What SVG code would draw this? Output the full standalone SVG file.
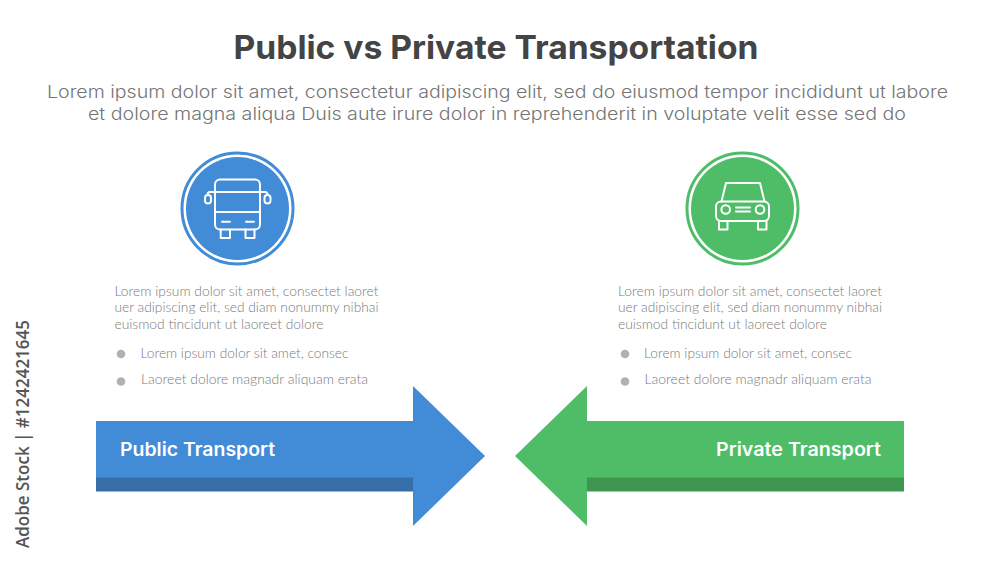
<svg xmlns="http://www.w3.org/2000/svg" width="1000" height="563" viewBox="0 0 1000 563">
<style>
.title{font:700 33px "Inter","Open Sans","Liberation Sans",sans-serif;fill:#444}
.sub{font:300 17px "Inter","Open Sans","Liberation Sans",sans-serif;fill:#757575}
.body{font:300 13.6px "Lato","Liberation Sans",sans-serif;fill:#7a7a7a}
.label{font:600 18.5px "Inter","Open Sans","Liberation Sans",sans-serif;fill:#fff}
.ico{fill:none;stroke:#fff;stroke-width:2;stroke-linejoin:round;stroke-linecap:round}
.dot{fill:#b0b0b0}
.stock{font:600 17.5px "Open Sans","Liberation Sans",sans-serif;fill:#555}
</style>
<rect width="1000" height="563" fill="#fff"/>
<g id="header">
<text class="title" x="496" y="59" text-anchor="middle" textLength="525" lengthAdjust="spacingAndGlyphs">Public vs Private Transportation</text>
<text class="sub" x="497.500" y="98" text-anchor="middle" textLength="901" lengthAdjust="spacingAndGlyphs">Lorem ipsum dolor sit amet, consectetur adipiscing elit, sed do eiusmod tempor incididunt ut labore</text>
<text class="sub" x="497" y="119.500" text-anchor="middle" textLength="818" lengthAdjust="spacingAndGlyphs">et dolore magna aliqua Duis aute irure dolor in reprehenderit in voluptate velit esse sed do</text>
</g>
<g id="public-icon">
<circle cx="237.500" cy="208.500" r="55.500" fill="#fff" stroke="#428bd6" stroke-width="3"/>
<circle cx="237.500" cy="208.500" r="51.500" fill="#428bd6"/>
<g class="ico">
<rect x="215" y="179.500" width="45" height="50" rx="5"/>
<path d="M215 192H260M215 212H260"/>
<path d="M222 221.700H230M246 221.700H254"/>
<path d="M220.700 229.500V238H230V229.500M245.500 229.500V238H254.500V229.500"/>
<path d="M215 192H210Q207.500 192 207.500 195M260 192H265Q267.500 192 267.500 195"/>
<rect x="205" y="195" width="6" height="8.500" rx="3"/>
<rect x="264.500" y="195" width="6" height="8.500" rx="3"/>
</g>
</g>
<g id="private-icon">
<circle cx="742.500" cy="208.500" r="55.500" fill="#fff" stroke="#4fbd68" stroke-width="3"/>
<circle cx="742.500" cy="208.500" r="51.500" fill="#4fbd68"/>
<g class="ico">
<path d="M721.500 201.500L726 183H760L764.500 201.500"/>
<rect x="716" y="201.500" width="53" height="19.500" rx="5"/>
<circle cx="725.700" cy="209.500" r="4.300"/>
<circle cx="760" cy="209.500" r="4.300"/>
<path d="M736 207.500H750M736 211.500H750"/>
<path d="M719 221V229.500H727.500V221M758 221V229.500H766.500V221"/>
</g>
</g>
<g id="public-text">
<text class="body" x="114.500" y="295.500" textLength="264" lengthAdjust="spacingAndGlyphs">Lorem ipsum dolor sit amet, consectet laoret</text>
<text class="body" x="114.500" y="312" textLength="264" lengthAdjust="spacingAndGlyphs">uer adipiscing elit, sed diam nonummy nibhai</text>
<text class="body" x="114.500" y="329" textLength="209" lengthAdjust="spacingAndGlyphs">euismod tincidunt ut laoreet dolore</text>
<circle class="dot" cx="121" cy="354" r="4.300"/>
<text class="body" x="140.500" y="358" textLength="208" lengthAdjust="spacingAndGlyphs">Lorem ipsum dolor sit amet, consec</text>
<circle class="dot" cx="121" cy="381.500" r="4.300"/>
<text class="body" x="141" y="384" textLength="227" lengthAdjust="spacingAndGlyphs">Laoreet dolore magnadr aliquam erata</text>
</g>
<g id="private-text">
<text class="body" x="618" y="295.500" textLength="264" lengthAdjust="spacingAndGlyphs">Lorem ipsum dolor sit amet, consectet laoret</text>
<text class="body" x="618" y="312" textLength="264" lengthAdjust="spacingAndGlyphs">uer adipiscing elit, sed diam nonummy nibhai</text>
<text class="body" x="618" y="329" textLength="209" lengthAdjust="spacingAndGlyphs">euismod tincidunt ut laoreet dolore</text>
<circle class="dot" cx="625" cy="354" r="4.300"/>
<text class="body" x="644" y="358" textLength="208" lengthAdjust="spacingAndGlyphs">Lorem ipsum dolor sit amet, consec</text>
<circle class="dot" cx="625" cy="381.500" r="4.300"/>
<text class="body" x="644.500" y="384" textLength="227" lengthAdjust="spacingAndGlyphs">Laoreet dolore magnadr aliquam erata</text>
</g>
<g id="public-arrow">
<rect x="96" y="421" width="318" height="57" fill="#428bd6"/>
<rect x="96" y="477.500" width="318" height="14" fill="#376ea8"/>
<path d="M413 386L485 456L413 526Z" fill="#428bd6"/>
<text class="label" x="120" y="456" textLength="155" lengthAdjust="spacingAndGlyphs">Public Transport</text>
</g>
<g id="private-arrow">
<rect x="586" y="421" width="318" height="57" fill="#4fbd68"/>
<rect x="586" y="477.500" width="318" height="14" fill="#3f9650"/>
<path d="M587 386L515 456L587 526Z" fill="#4fbd68"/>
<text class="label" x="716" y="456" textLength="165" lengthAdjust="spacingAndGlyphs">Private Transport</text>
</g>
<text class="stock" transform="translate(29 548) rotate(-90)" textLength="228" lengthAdjust="spacingAndGlyphs">Adobe Stock | #1242421645</text>
</svg>
